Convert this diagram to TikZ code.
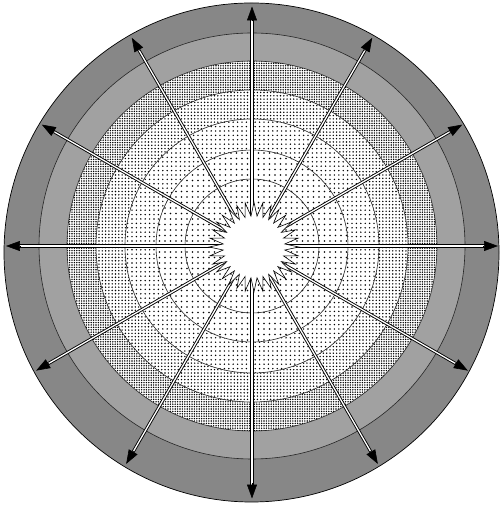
\documentclass[tikz,border=0pt]{standalone}
\usepackage{tikz}
\usetikzlibrary{calc,patterns,patterns.meta,shapes.geometric,arrows.meta}
\tikzset{
	ringline/.style={draw=black!85, line width=0.6pt},
	spoke/.style={draw=black, line width=0.9pt, double=white, double distance=1.3pt},
	spoketip/.style={-{Triangle[length=14pt,width=10pt]}, line width=0.6pt},
	burstnode/.style={star, star points=32, star point ratio=1.45, minimum size=90pt, inner sep=0pt, draw, fill=white, line width=0.6pt}
}

\begin{document}
\begin{tikzpicture}[x=1bp,y=1bp]
	\useasboundingbox (0,0) rectangle (501,505);
	\coordinate (o) at (251.5,252.5);
	\coordinate (c) at (252,259);
	% outer disc and the dotted rings
	\draw[fill=black!47, line width=0.7pt] (o) ellipse [x radius=247.5, y radius=249.5];
	\fill[black!37] (c) circle (213);
	\fill[white] (c) circle (185);
	\fill[pattern={Dots[distance=2.4bp,radius=0.8bp]}] (c) circle (185);
	\fill[white] (c) circle (156);
	\fill[pattern={Dots[distance=3.3bp,radius=0.8bp]}] (c) circle (156);
	\fill[white] (c) circle (127);
	\fill[pattern={Dots[distance=4.4bp,radius=0.8bp]}] (c) circle (127);
	\fill[white] (c) circle (96);
	\fill[pattern={Dots[distance=5.5bp,radius=0.8bp]}] (c) circle (96);
	\foreach \r in {67,96,127,156,185,213}
		\draw[ringline] (c) circle (\r);
	% spokes
	\foreach \a in {0,30,...,330}{
		\coordinate (tip\a) at ($(c)+(\a:{246-6.5*sin(\a)})$);
		\draw[spoke] (c) -- ($(tip\a)!11bp!(c)$);
		\draw[spoketip] ($(tip\a)!15bp!(c)$) -- (tip\a);
	}
	\node[burstnode] (burst) at (254,258) {};
\end{tikzpicture}
\end{document}
